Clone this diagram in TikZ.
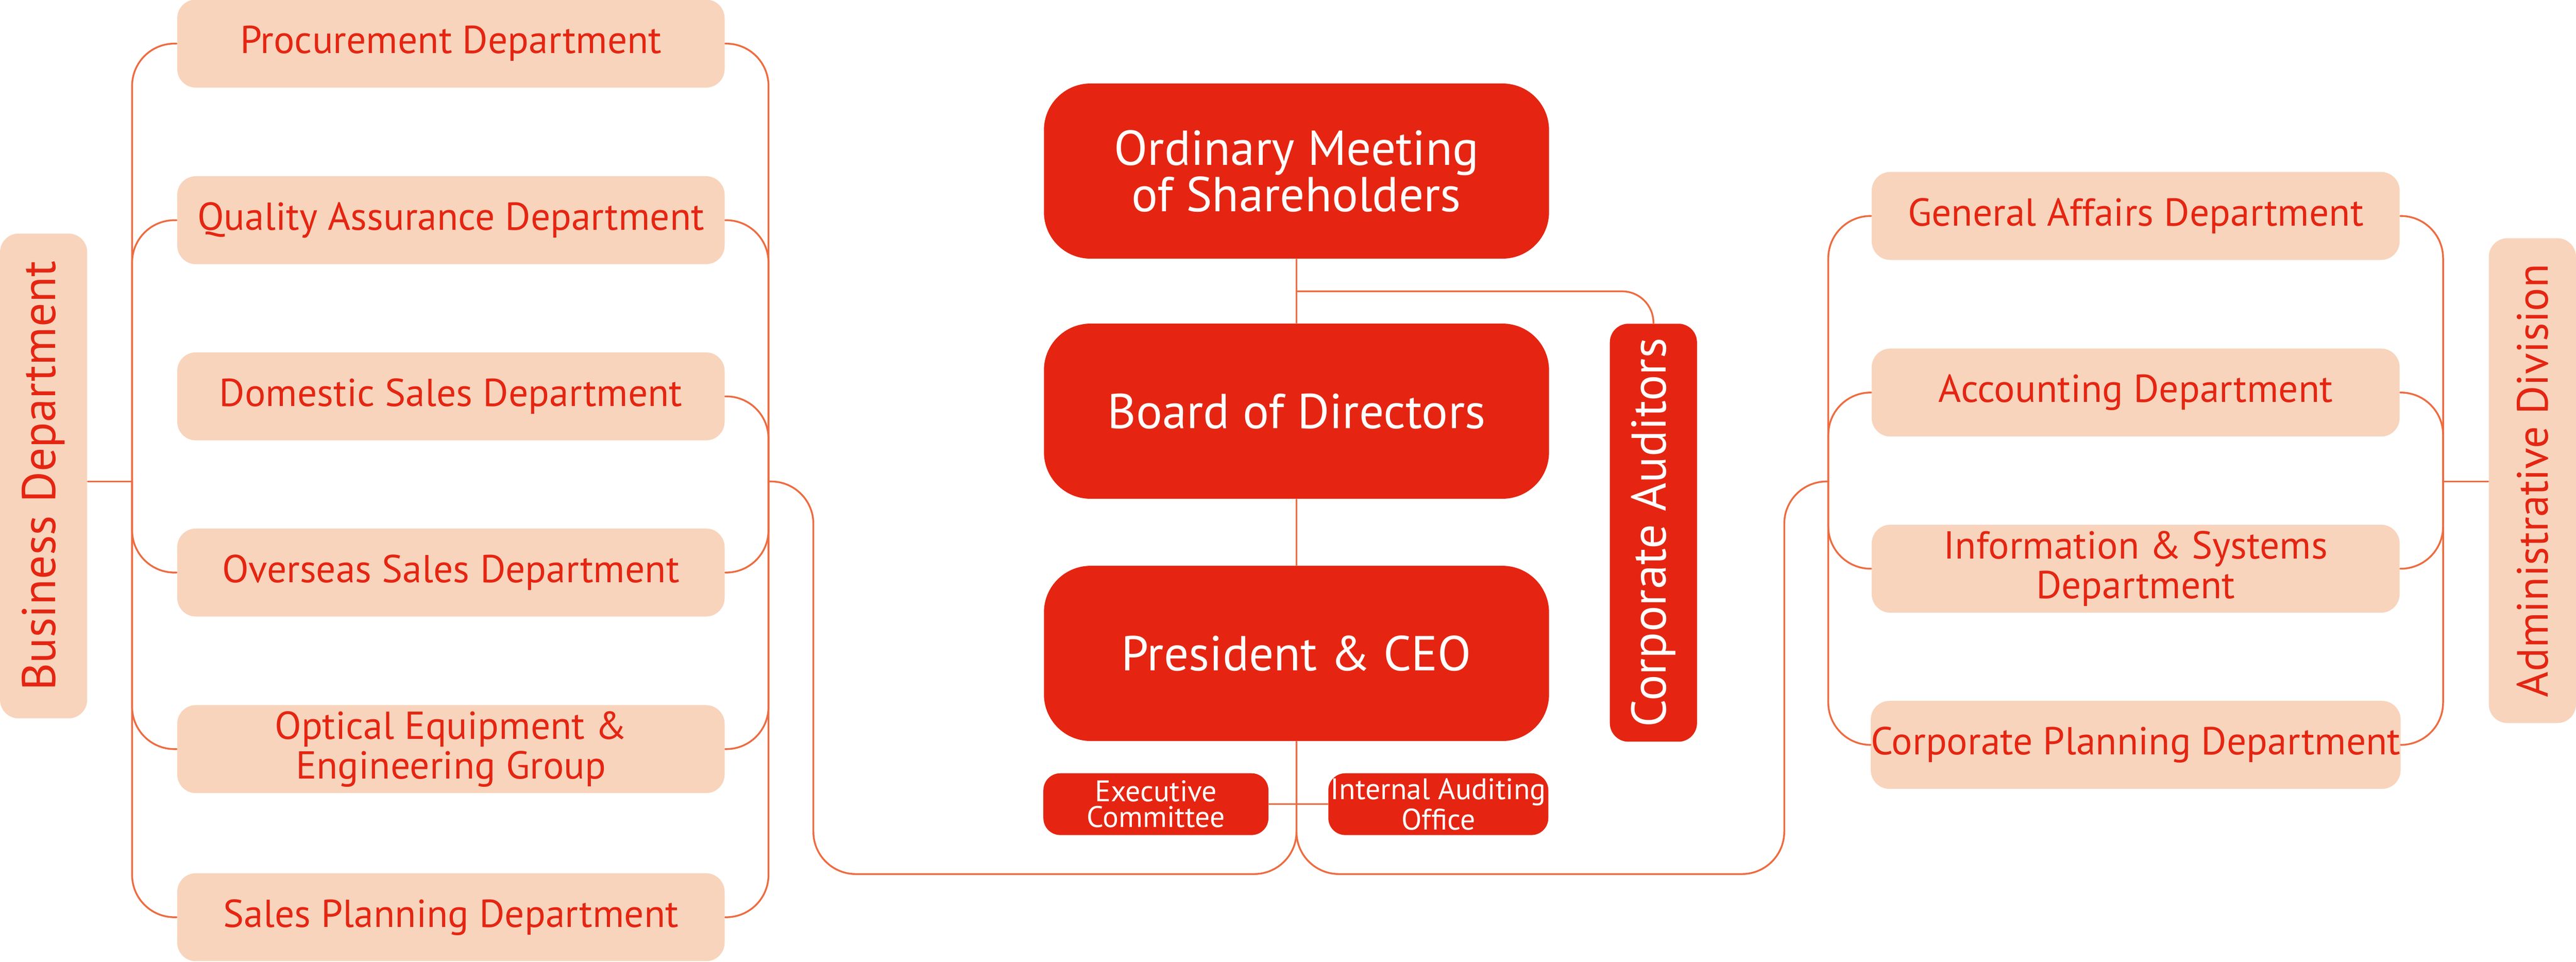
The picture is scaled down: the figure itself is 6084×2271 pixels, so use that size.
\documentclass[tikz,border=0pt]{standalone}
\usepackage{fontspec}
\setmainfont{PT Sans}
\definecolor{ored}{HTML}{E52511}
\definecolor{peach}{HTML}{F8D4BD}
\definecolor{lineor}{HTML}{EE6B3F}
\begin{document}
\begin{tikzpicture}[x=0.005cm, y=-0.005cm, line join=round, line cap=round,
	link/.style={draw=lineor, line width=0.6pt, rounded corners=0.5cm},
	dept/.style={fill=peach, text=ored, rounded corners=0.22cm, inner sep=0pt, align=center,
		minimum height=1.04cm, font=\fontsize{13.1}{13.4}\selectfont},
	organ/.style={fill=ored, text=white, rounded corners=0.55cm, inner sep=0pt, align=center,
		minimum width=5.97cm, minimum height=2.07cm, font=\fontsize{16.5}{15.5}\selectfont},
	office/.style={fill=ored, text=white, rounded corners=0.2cm, inner sep=0pt, align=center,
		minimum height=0.73cm, font=\fontsize{10}{8.6}\selectfont},
	side/.style={fill=peach, text=ored, rounded corners=0.22cm, inner sep=0pt, rotate=90,
		minimum width=5.73cm, minimum height=1.03cm}]
		\useasboundingbox (0,0) rectangle (6084,2271);
		\node[side, font=\fontsize{15.9}{16}\selectfont] (biz) at (103,1124) {Business Department};
		\node[dept, minimum width=6.47cm] (proc) at (1065,103) {Procurement Department};
		\node[dept, minimum width=6.47cm] (qual) at (1065,520) {Quality Assurance Department};
		\node[dept, minimum width=6.47cm] (dom) at (1065,936) {Domestic Sales Department};
		\node[dept, minimum width=6.47cm] (over) at (1065,1352) {Overseas Sales Department};
		\node[dept, minimum width=6.47cm] (opt) at (1065,1769) {Optical Equipment \&\\Engineering Group};
		\node[dept, minimum width=6.47cm] (splan) at (1065,2166) {Sales Planning Department};
		\node[organ] (meet) at (3062,404) {Ordinary Meeting\\of Shareholders};
		\node[organ] (board) at (3062,971) {Board of Directors};
		\node[organ] (pres) at (3062,1543) {President \& CEO};
		\node[office, minimum width=2.66cm] (exec) at (2730,1899) {Executive\\Committee};
		\node[office, minimum width=2.6cm] (audit) at (3397,1899) {Internal Auditing\\Office};
		\node[fill=ored, text=white, rounded corners=0.22cm, inner sep=0pt, rotate=90,
			minimum width=4.94cm, minimum height=1.03cm, font=\fontsize{16.4}{17}\selectfont] (corp) at (3905,1258) {Corporate Auditors};
		\node[dept, minimum width=6.24cm] (gen) at (5044,510) {General Affairs Department};
		\node[dept, minimum width=6.24cm] (acc) at (5044,927) {Accounting Department};
		\node[dept, minimum width=6.24cm] (info) at (5044,1343) {Information \& Systems\\Department};
		\node[dept, minimum width=6.24cm] (cplan) at (5044,1759) {Corporate Planning Department};
		\node[side, font=\fontsize{14.7}{16}\selectfont] (adm) at (5981,1135) {Administrative Division};
		\coordinate (lhub) at (312,1137);
		\coordinate (lrhub) at (1815,1137);
		\coordinate (lfork) at (1921,1137);
		\coordinate (rfork) at (4214,1137);
		\coordinate (rlhub) at (4318,1137);
		\coordinate (rrhub) at (5770,1137);
		\coordinate (bot) at (3062,2064);
		\draw[link] (lhub -| biz.south) -- (lhub);
		\foreach \n in {proc,qual,over,opt,splan} \draw[link] (lhub) |- (\n.west);
		\foreach \n in {proc,qual,dom,over,opt,splan} \draw[link] (\n.east) -| (lrhub);
		\draw[link] (pres.south) -- (bot) -| (lfork) -- (lrhub);
		\draw[link] (pres.south) -- (bot) -| (rfork) -- (rlhub);
		\draw[link] (meet.south) -- (board.north);
		\draw[link] (board.south) -- (pres.north);
		\draw[link, rounded corners=0.37cm] (meet.south |- 0,688) -| (corp.east);
		\draw[link] (exec.east) -- (audit.west);
		\foreach \n in {gen,acc,info,cplan} {
			\draw[link] (rlhub) |- (\n.west);
			\draw[link] (\n.east) -| (rrhub);
		}
		\draw[link] (rrhub) -- (rrhub -| adm.north);
\end{tikzpicture}
\end{document}
